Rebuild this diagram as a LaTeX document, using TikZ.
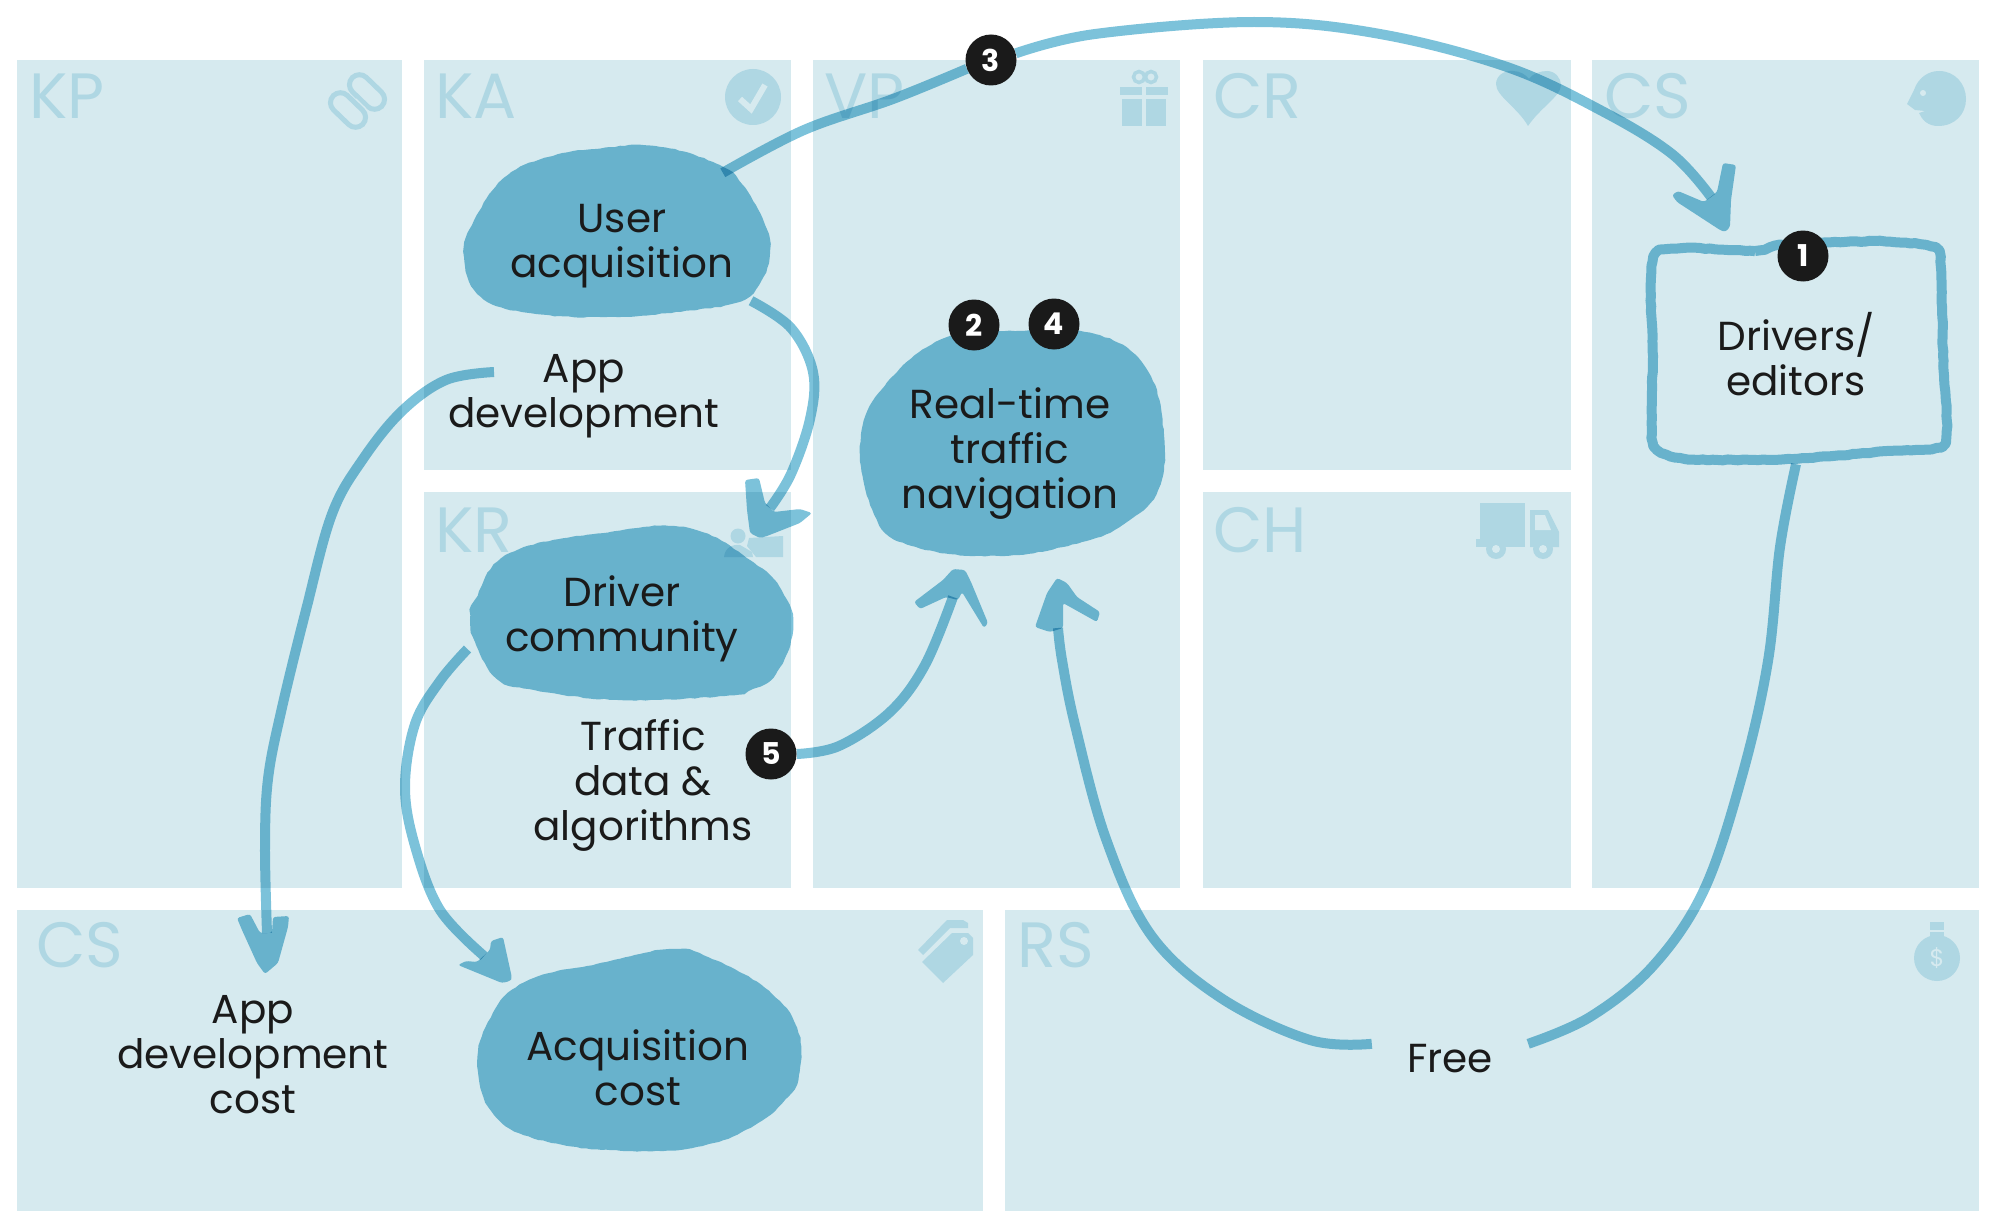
\documentclass[tikz,border=0pt]{standalone}
\usepackage{fontspec}
\setmainfont{Poppins}
\usetikzlibrary{shapes.geometric,positioning,decorations.pathmorphing}
\definecolor{panel}{HTML}{D6EAEF}
\definecolor{iconc}{HTML}{AFD7E3}
\definecolor{inkblue}{HTML}{7CC2DA}
\definecolor{ink}{HTML}{1A1A1A}
\pgfmathsetseed{7}
\tikzset{
  panelbox/.style={fill=panel,draw=none},
  plabel/.style={text=iconc,font=\fontsize{64}{66}\selectfont,anchor=base west,inner sep=0pt},
  icon/.style={fill=iconc,draw=none},
  iconline/.style={draw=iconc,line width=5pt,fill=none},
  iconcut/.style={fill=panel,draw=none},
  rough/.style={decorate,decoration={random steps,segment length=5pt,amplitude=.5pt}},
  blobfill/.style={fill=inkblue,draw=none,blend mode=multiply,rough},
  boxline/.style={draw=inkblue,line width=10pt,line join=round,blend mode=multiply,rough},
  txt/.style={text=ink,align=center,font=\fontsize{40.5}{45}\selectfont,inner sep=0pt},
  blobnode/.style={txt,ellipse,draw=none,minimum width=320pt,minimum height=175pt},
  badge/.style={circle,fill=ink,text=white,minimum size=51pt,inner sep=0pt,font=\fontsize{30}{30}\selectfont\bfseries},
  conn/.style={draw=inkblue,line width=10pt,line cap=butt,line join=round,fill=none,blend mode=multiply},
  arrowhead/.style={fill=inkblue,draw=none,rounded corners=2.5pt,blend mode=multiply},
}
\begin{document}
\begin{tikzpicture}[x=1pt,y=-1pt]
\useasboundingbox (0,0) rectangle (1994,1228);
% panels
\fill[panelbox] (17,60) rectangle (402,888);
\fill[panelbox] (424,60) rectangle (791,470);
\fill[panelbox] (424,492) rectangle (791,888);
\fill[panelbox] (813,60) rectangle (1180,888);
\fill[panelbox] (1203,60) rectangle (1571,470);
\fill[panelbox] (1203,492) rectangle (1571,888);
\fill[panelbox] (1592,60) rectangle (1979,888);
\fill[panelbox] (17,910) rectangle (983,1211);
\fill[panelbox] (1005,910) rectangle (1979,1211);
% panel labels
\node[plabel] (lkp) at (29,119) {KP};
\node[plabel] (lka) at (435,119) {KA};
\node[plabel] (lvp) at (824,119) {VP};
\node[plabel] (lcr) at (1213,119) {CR};
\node[plabel] (lcs) at (1604,119) {CS};
\node[plabel] (lkr) at (435,552) {KR};
\node[plabel] (lch) at (1213,552) {CH};
\node[plabel] (lco) at (36,967) {CS};
\node[plabel] (lrs) at (1017,967) {RS};
% icons
% link
\draw[iconline,rounded corners=10pt,rotate around={-44:(367,92)}] (346.5,82) rectangle (387.5,102);
\draw[draw=panel,line width=8pt,rounded corners=10pt,rotate around={-44:(348,110)}] (346,100) -- (368.5,100) -- (368.5,120) -- (346,120);
\draw[iconline,rounded corners=10pt,rotate around={-44:(348,110)}] (327.5,100) rectangle (368.5,120);
% check
\fill[icon] (753,97) circle (28);
\draw[draw=panel,line width=6pt] (740,99) -- (751,109) -- (765,85);
% gift
\fill[icon] (1120,87) rectangle (1168,95);
\fill[icon] (1122,99) rectangle (1166,126);
\fill[iconcut] (1142,87) rectangle (1146,126);
\draw[draw=iconc,line width=3.5pt] (1139,77) circle (5.5);
\draw[draw=iconc,line width=3.5pt] (1151,77) circle (5.5);
% heart
\fill[icon] (1528,126) .. controls (1518,108) and (1496,96) .. (1496,84)
  .. controls (1496,76) and (1504,70) .. (1513,71) .. controls (1520,71) and (1526,75) .. (1529,79)
  .. controls (1532,74) and (1540,71) .. (1547,71) .. controls (1555,71) and (1561,78) .. (1561,85)
  .. controls (1561,96) and (1540,108) .. (1528,126) -- cycle;
% face
\fill[icon] (1939,71) .. controls (1955,71) and (1966,84) .. (1966,99)
  .. controls (1966,114) and (1955,126) .. (1938,126) .. controls (1928,126) and (1922,120) .. (1919,113)
  -- (1925,111) -- (1915,110) -- (1907,104) -- (1914,90) .. controls (1918,78) and (1928,71) .. (1939,71) -- cycle;
\fill[iconcut] (1923,93) circle (3);
% truck
\fill[icon] (1480,503) rectangle (1525,547);
\fill[icon] (1476,539) rectangle (1490,547);
\fill[icon] (1530,510) -- (1548,510) -- (1559,532) -- (1559,547) -- (1530,547) -- cycle;
\fill[iconcut] (1535,515) -- (1545,515) -- (1551,530) -- (1535,530) -- cycle;
\fill[icon] (1496,549) circle (10);
\fill[icon] (1543,549) circle (10);
\fill[iconcut] (1496,549) circle (4);
\fill[iconcut] (1543,549) circle (4);
% people
\fill[icon] (738,536) circle (7.5);
\fill[icon] (724,557) .. controls (725,548) and (732,544) .. (740,545) -- (752,552) -- (753,557) -- cycle;
\fill[icon] (749,538) -- (783,536) -- (783,557) -- (756,557) -- (747,546) -- cycle;
% tag
\fill[icon] (918,950) -- (947,920) -- (963,920) -- (968,923) -- (968,928) -- (950,928) -- (923,955) -- cycle;
\fill[icon] (922,962) -- (952,933) -- (968,933) -- (973,938) -- (973,955) -- (943,983) -- cycle;
\fill[iconcut] (964,941) circle (4);
% money bag
\fill[icon] (1937,958) circle (23);
\fill[icon] (1930,922) rectangle (1944,937);
\fill[iconcut] (1928,930) rectangle (1946,932);
\node[text=panel,font=\fontsize{24}{24}\selectfont,inner sep=0pt] (dollar) at (1937,958) {\$};
% blobs
\fill[blobfill] plot[smooth cycle,tension=.7] coordinates {(655,146)(715,163)(742,184)(765,225)(770,253)(759,285)(735,303)(676,312)(619,317)(536,314)(481,297)(464,257)(472,225)(504,178)(548,157)(595,149)};
\fill[blobfill] plot[smooth cycle,tension=.7] coordinates {(1015,331)(1095,334)(1146,368)(1164,435)(1158,490)(1127,522)(1082,542)(1000,556)(912,546)(874,514)(861,435)(893,376)(950,336)};
\fill[blobfill] plot[smooth cycle,tension=.7] coordinates {(689,528)(750,560)(782,591)(793,630)(776,674)(753,689)(725,696)(619,700)(534,690)(497,679)(475,642)(470,620)(475,600)(510,553)(610,532)};
\fill[blobfill] plot[smooth cycle,tension=.7] coordinates {(670,949)(708,957)(765,988)(797,1028)(799,1075)(785,1100)(755,1125)(702,1146)(631,1151)(548,1142)(497,1118)(478,1071)(488,1022)(525,982)(606,962)};
% drivers box outline
\draw[boxline] plot[smooth cycle,tension=.35] coordinates {(1656,253)(1755,251)(1780,245)(1875,241)(1926,245)(1940,257)(1943,356)(1945,443)(1888,451)(1793,459)(1685,459)(1653,443)(1653,356)};
% text nodes
\node[blobnode,minimum width=300pt,minimum height=190pt] (ua) at (622,246) {User\\acquisition};
\node[blobnode,minimum width=303pt,minimum height=226pt] (rt) at (1010,454) {Real-time\\traffic\\navigation};
\node[blobnode,minimum height=170pt] (dc) at (622,619) {Driver\\community};
\node[blobnode] (ac) at (638,1068) {Acquisition\\cost};
\node[txt,minimum width=290pt,minimum height=220pt] (dr) at (1796,354) {Drivers/\\editors};
\node[txt] (ad) at (584,396) {App\\development};
\node[txt] (td) at (643,785) {Traffic\\data \&\\algorithms};
\node[txt] (ac2) at (253,1055) {App\\development\\cost};
\node[txt,minimum width=156pt,minimum height=30pt] (fr) at (1450,1059) {Free};
% badges
\node[badge] (n1) at (1803,256) {1};
\node[badge] (n2) at (974,325) {2};
\node[badge] (n3) at (991,60) {3};
\node[badge] (n4) at (1054,324) {4};
\node[badge] (n5) at (771,754) {5};
% free ends and arrow ends
\coordinate (ads) at (494,372);
\coordinate (t3) at (1711,197);
\coordinate (t1) at (770,508);
\coordinate (t5) at (953,597);
\coordinate (t2) at (1058,628);
\coordinate (t6) at (267,933);
\coordinate (t7) at (484,956);
% connectors
\draw[conn] plot[smooth,tension=.6] coordinates {(ua.36)(804,130)(893,99)(n3.200)};
\draw[conn] plot[smooth,tension=.6] coordinates {(n3.15)(1095,34)(1254,22)(1380,34)(1507,67)(1602,111)(1672,154)(t3)};
\fill[arrowhead] (1725,232) -- (1730,227) -- (1731,200) -- (1736,165) -- (1723,163) -- (1717,192) -- (1704,202) -- (1678,191) -- (1672,195) -- (1677,202) -- (1720,230) -- cycle;
\draw[conn] plot[smooth,tension=.6] coordinates {(ua.337)(791,328)(813,372)(810,419)(791,474)(t1)};
\fill[arrowhead] (745,480) -- (759,478) -- (765,503) -- (774,512) -- (800,509) -- (812,513) -- (800,523) -- (767,536) -- (760,538) -- (750,533) -- (747,510) -- cycle;
\draw[conn] plot[smooth,tension=.6] coordinates {(ads)(446,380)(402,411)(363,459)(332,514)(306,610)(281,712)(268,779)(265,846)(t6)};
\fill[arrowhead] (237,918) -- (250,914) -- (260,933) -- (272,933) -- (273,917) -- (289,916) -- (288,927) -- (278,963) -- (265,974) -- (257,963) -- (242,930) -- cycle;
\draw[conn] plot[smooth,tension=.6] coordinates {(dc.191)(440,681)(415,724)(405,787)(415,846)(440,910)(t7)};
\fill[arrowhead] (458,965) -- (466,961) -- (477,962) -- (490,950) -- (491,941) -- (503,937) -- (512,978) -- (510,981) -- (502,983) -- cycle;
\draw[conn] plot[smooth,tension=.6] coordinates {(n5.east)(839,746)(890,712)(925,665)(t5)};
\fill[arrowhead] (953,569) -- (965,570) -- (971,582) -- (988,623) -- (984,628) -- (962,592) -- (958,600) -- (946,597) -- (920,609) -- (914,602) -- (943,580) -- cycle;
\draw[conn] plot[smooth,tension=.6] coordinates {(fr.north west)(1310,1040)(1221,998)(1151,935)(1106,839)(1075,725)(1062,660)(t2)};
\fill[arrowhead] (1057,578) -- (1067,583) -- (1077,597) -- (1100,612) -- (1097,622) -- (1063,603) -- (1063,628) -- (1050,632) -- (1035,627) -- (1047,593) -- cycle;
\draw[conn] plot[smooth,tension=.6] coordinates {(dr.south)(1780,547)(1768,661)(1742,776)(1704,890)(1653,966)(1590,1017)(fr.north east)};
\end{tikzpicture}
\end{document}
